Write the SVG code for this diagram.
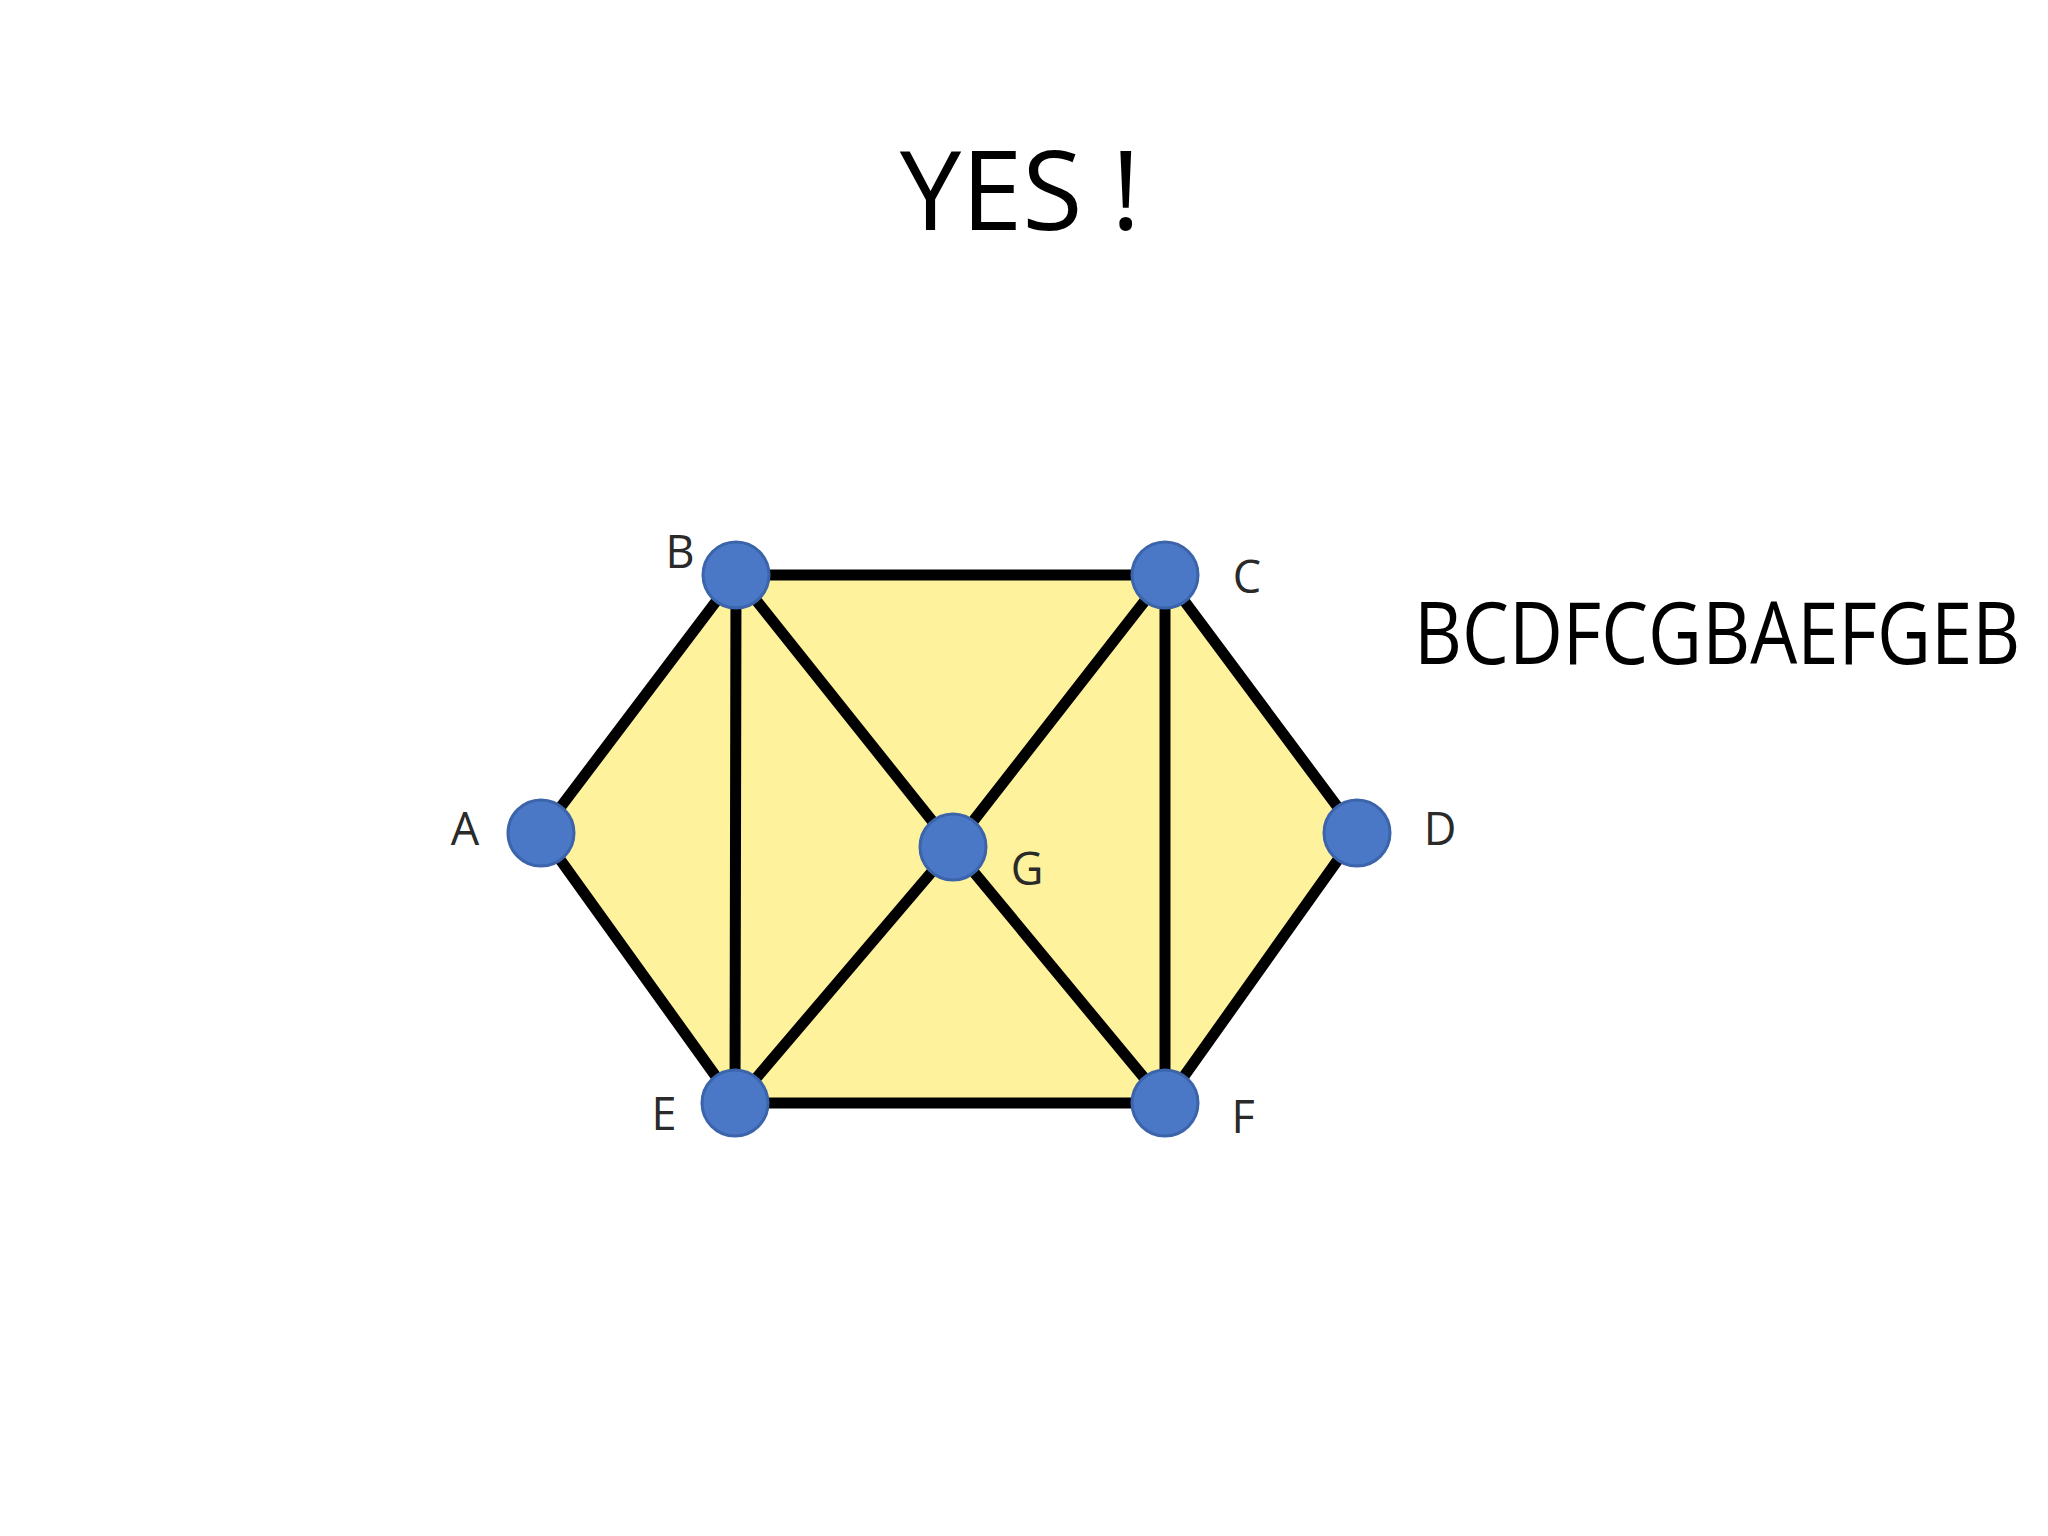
<svg xmlns="http://www.w3.org/2000/svg" width="2048" height="1536" viewBox="0 0 2048 1536">
<style>
.edge{stroke:#000;stroke-width:11;stroke-linecap:round;fill:none}
.node{fill:#4a78c6;stroke:#3b64aa;stroke-width:3}
.lbl{font-family:"Open Sans","Liberation Sans",sans-serif;font-size:45px;fill:#2a2a2a;text-anchor:middle;dominant-baseline:central}
.title{font-family:"Open Sans","Liberation Sans",sans-serif;font-size:110px;fill:#000;text-anchor:middle}
.seq{font-family:"Open Sans","Liberation Sans",sans-serif;font-size:86px;fill:#000}
</style>
<rect width="2048" height="1536" fill="#ffffff"/>
<text class="title" x="1020" y="230">YES !</text>
<text class="seq" transform="translate(1414,664) scale(0.865,1)" x="0" y="0">BCDFCGBAEFGEB</text>
<polygon points="541,833 736,575 1165,575 1357,833 1165,1103 735,1103" fill="#fff29c"/>
<g id="connectors">
<line class="edge" x1="541" y1="833" x2="736" y2="575"/>
<line class="edge" x1="736" y1="575" x2="1165" y2="575"/>
<line class="edge" x1="1165" y1="575" x2="1357" y2="833"/>
<line class="edge" x1="1357" y1="833" x2="1165" y2="1103"/>
<line class="edge" x1="1165" y1="1103" x2="735" y2="1103"/>
<line class="edge" x1="735" y1="1103" x2="541" y2="833"/>
<line class="edge" x1="736" y1="575" x2="735" y2="1103"/>
<line class="edge" x1="1165" y1="575" x2="1165" y2="1103"/>
<line class="edge" x1="736" y1="575" x2="953" y2="847"/>
<line class="edge" x1="1165" y1="575" x2="953" y2="847"/>
<line class="edge" x1="735" y1="1103" x2="953" y2="847"/>
<line class="edge" x1="1165" y1="1103" x2="953" y2="847"/>
</g>
<g id="node-A"><circle class="node" cx="541" cy="833" r="33"/><text class="lbl" x="465" y="827">A</text></g>
<g id="node-B"><circle class="node" cx="736" cy="575" r="33"/><text class="lbl" x="680" y="550">B</text></g>
<g id="node-C"><circle class="node" cx="1165" cy="575" r="33"/><text class="lbl" x="1247" y="575">C</text></g>
<g id="node-D"><circle class="node" cx="1357" cy="833" r="33"/><text class="lbl" x="1440" y="827">D</text></g>
<g id="node-E"><circle class="node" cx="735" cy="1103" r="33"/><text class="lbl" x="664" y="1112">E</text></g>
<g id="node-F"><circle class="node" cx="1165" cy="1103" r="33"/><text class="lbl" x="1243" y="1115">F</text></g>
<g id="node-G"><circle class="node" cx="953" cy="847" r="33"/><text class="lbl" x="1027" y="867">G</text></g>
</svg>
